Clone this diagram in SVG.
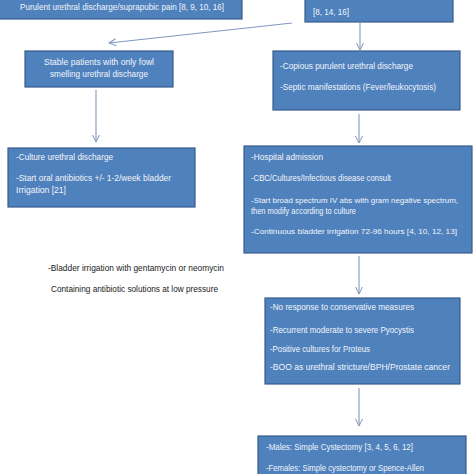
<svg xmlns="http://www.w3.org/2000/svg" width="474" height="474" viewBox="0 0 474 474">
<defs>
<marker id="ah" markerWidth="10" markerHeight="10" refX="8" refY="5" orient="auto" markerUnits="userSpaceOnUse">
<polyline points="1,1.5 8,5 1,8.5" fill="none" stroke="#7f98bd" stroke-width="1"/>
</marker>
</defs>
<style>
.box{fill:#4f81bd;stroke:#385d8a;stroke-width:1.2}
.t{font-family:"Liberation Sans",Arial,sans-serif;font-size:9px;fill:#f2f5fa}
.s{font-size:8px}
.k{font-family:"Liberation Sans",Arial,sans-serif;font-size:9px;fill:#222}
.c{fill:none;stroke:#7f98bd;stroke-width:1.1;marker-end:url(#ah)}
</style>
<rect width="474" height="474" fill="#fff"/>
<g id="connectors">
<line class="c" x1="292" y1="23" x2="109" y2="43"/>
<line class="c" x1="360" y1="23" x2="360" y2="50"/>
<line class="c" x1="96" y1="90" x2="96" y2="142"/>
<line class="c" x1="359" y1="114" x2="359" y2="143"/>
<line class="c" x1="359" y1="256" x2="359" y2="294"/>
<line class="c" x1="359" y1="388" x2="359" y2="426"/>
</g>
<g id="n1">
<rect class="box" x="-2" y="-5" width="244" height="24"/>
<text class="t" x="20" y="10" textLength="204" lengthAdjust="spacingAndGlyphs">Purulent urethral discharge/suprapubic pain [8, 9, 10, 16]</text>
</g>
<g id="n2">
<rect class="box" x="305" y="-5" width="148" height="27"/>
<text class="t" x="313" y="15" textLength="36" lengthAdjust="spacingAndGlyphs">[8, 14, 16]</text>
</g>
<g id="n3">
<rect class="box" x="25" y="51" width="148" height="36"/>
<text class="t" x="44" y="65" textLength="110" lengthAdjust="spacingAndGlyphs">Stable patients with only fowl</text>
<text class="t" x="50" y="77" textLength="98" lengthAdjust="spacingAndGlyphs">smelling urethral discharge</text>
</g>
<g id="n4">
<rect class="box" x="273" y="51" width="187" height="59"/>
<text class="t" x="280" y="69" textLength="133" lengthAdjust="spacingAndGlyphs">-Copious purulent urethral discharge</text>
<text class="t" x="280" y="90" textLength="156" lengthAdjust="spacingAndGlyphs">-Septic manifestations (Fever/leukocytosis)</text>
</g>
<g id="n5">
<rect class="box" x="8" y="148" width="187" height="59"/>
<text class="t" x="16" y="160" textLength="97" lengthAdjust="spacingAndGlyphs">-Culture urethral discharge</text>
<text class="t" x="16" y="181" textLength="155" lengthAdjust="spacingAndGlyphs">-Start oral antibiotics +/- 1-2/week bladder</text>
<text class="t" x="16" y="193" textLength="50" lengthAdjust="spacingAndGlyphs">Irrigation [21]</text>
</g>
<g id="n6">
<rect class="box" x="244" y="146" width="228" height="107"/>
<text class="t" x="251" y="160" textLength="72" lengthAdjust="spacingAndGlyphs">-Hospital admission</text>
<text class="t" x="251" y="181" textLength="140" lengthAdjust="spacingAndGlyphs">-CBC/Cultures/Infectious disease  consult</text>
<text class="t s" x="251" y="203" textLength="207" lengthAdjust="spacingAndGlyphs">-Start broad spectrum IV abs with gram negative spectrum,</text>
<text class="t" x="251" y="214" textLength="105" lengthAdjust="spacingAndGlyphs">then modify according to culture</text>
<text class="t s" x="251" y="234" textLength="206" lengthAdjust="spacingAndGlyphs">-Continuous bladder irrigation 72-96 hours [4, 10, 12, 13]</text>
</g>
<g id="n7">
<text class="k" x="48" y="271" textLength="176" lengthAdjust="spacingAndGlyphs">-Bladder irrigation with gentamycin or neomycin</text>
<text class="k" x="51" y="292" textLength="167" lengthAdjust="spacingAndGlyphs">Containing antibiotic solutions at low pressure</text>
</g>
<g id="n8">
<rect class="box" x="265" y="298" width="195" height="86"/>
<text class="t" x="270" y="310" textLength="144" lengthAdjust="spacingAndGlyphs">-No response to conservative measures</text>
<text class="t" x="270" y="333" textLength="144" lengthAdjust="spacingAndGlyphs">-Recurrent moderate to severe Pyocystis</text>
<text class="t" x="270" y="352" textLength="100" lengthAdjust="spacingAndGlyphs">-Positive cultures for Proteus</text>
<text class="t" x="270" y="370" textLength="180" lengthAdjust="spacingAndGlyphs">-BOO as urethral stricture/BPH/Prostate cancer</text>
</g>
<g id="n9">
<rect class="box" x="258" y="436" width="208" height="45"/>
<text class="t" x="266" y="450" textLength="147" lengthAdjust="spacingAndGlyphs">-Males: Simple Cystectomy [3, 4, 5, 6, 12]</text>
<text class="t" x="266" y="471" textLength="158" lengthAdjust="spacingAndGlyphs">-Females: Simple cystectomy or Spence-Allen</text>
</g>
</svg>
